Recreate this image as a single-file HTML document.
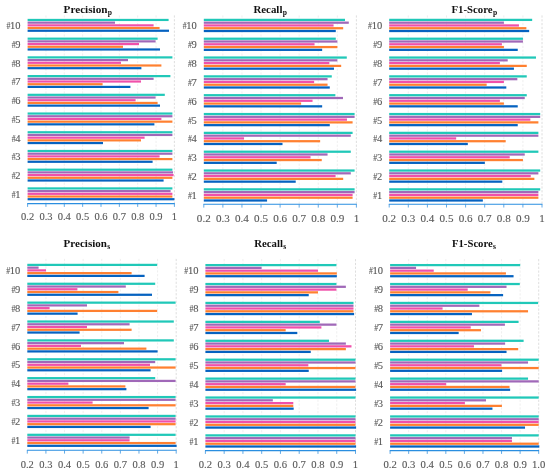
<!DOCTYPE html>
<html><head><meta charset="utf-8"><title>Charts</title>
<style>
html,body{margin:0;padding:0;background:#fff;}
body{width:550px;height:474px;overflow:hidden;}
svg{display:block;}
.lab{font-family:"Liberation Serif","DejaVu Serif",serif;fill:#585858;stroke:#585858;stroke-width:0.12px;}
.ttl{font-family:"Liberation Serif","DejaVu Serif",serif;font-weight:bold;fill:#111;}
</style></head><body>
<svg width="550" height="474" viewBox="0 0 550 474">
<rect width="550" height="474" fill="#fff"/>
<line x1="45.95" y1="15.4" x2="45.95" y2="203.6" stroke="#ebebeb" stroke-width="0.8" stroke-dasharray="2.2 1.6"/>
<line x1="64.30" y1="15.4" x2="64.30" y2="203.6" stroke="#ebebeb" stroke-width="0.8" stroke-dasharray="2.2 1.6"/>
<line x1="82.65" y1="15.4" x2="82.65" y2="203.6" stroke="#ebebeb" stroke-width="0.8" stroke-dasharray="2.2 1.6"/>
<line x1="101.00" y1="15.4" x2="101.00" y2="203.6" stroke="#ebebeb" stroke-width="0.8" stroke-dasharray="2.2 1.6"/>
<line x1="119.35" y1="15.4" x2="119.35" y2="203.6" stroke="#ebebeb" stroke-width="0.8" stroke-dasharray="2.2 1.6"/>
<line x1="137.70" y1="15.4" x2="137.70" y2="203.6" stroke="#ebebeb" stroke-width="0.8" stroke-dasharray="2.2 1.6"/>
<line x1="156.05" y1="15.4" x2="156.05" y2="203.6" stroke="#ebebeb" stroke-width="0.8" stroke-dasharray="2.2 1.6"/>
<line x1="174.40" y1="15.4" x2="174.40" y2="203.6" stroke="#d6d6d6" stroke-width="0.8" stroke-dasharray="2.2 1.6"/>
<rect x="27.60" y="18.86" width="141.00" height="2.19" fill="#20c8b8"/>
<rect x="27.60" y="21.55" width="87.40" height="2.19" fill="#a068b8"/>
<rect x="27.60" y="24.26" width="126.00" height="2.19" fill="#f050aa"/>
<rect x="27.60" y="26.96" width="132.00" height="2.19" fill="#ff8030"/>
<rect x="27.60" y="29.66" width="141.40" height="2.19" fill="#0562c0"/>
<text x="20.6" y="29.2" text-anchor="end" class="lab" font-size="10.5">10</text>
<text transform="translate(10.40,29.2) scale(0.74,1)" text-anchor="end" class="lab" font-size="10.5">#</text>
<rect x="27.60" y="37.58" width="130.00" height="2.19" fill="#20c8b8"/>
<rect x="27.60" y="40.28" width="128.00" height="2.19" fill="#a068b8"/>
<rect x="27.60" y="42.98" width="111.40" height="2.19" fill="#f050aa"/>
<rect x="27.60" y="45.68" width="95.40" height="2.19" fill="#ff8030"/>
<rect x="27.60" y="48.38" width="132.40" height="2.19" fill="#0562c0"/>
<text x="20.6" y="48.0" text-anchor="end" class="lab" font-size="10.5">9</text>
<text transform="translate(15.65,48.0) scale(0.74,1)" text-anchor="end" class="lab" font-size="10.5">#</text>
<rect x="27.60" y="56.30" width="144.80" height="2.19" fill="#20c8b8"/>
<rect x="27.60" y="59.00" width="100.40" height="2.19" fill="#a068b8"/>
<rect x="27.60" y="61.70" width="93.40" height="2.19" fill="#f050aa"/>
<rect x="27.60" y="64.40" width="133.80" height="2.19" fill="#ff8030"/>
<rect x="27.60" y="67.09" width="113.80" height="2.19" fill="#0562c0"/>
<text x="20.6" y="66.7" text-anchor="end" class="lab" font-size="10.5">8</text>
<text transform="translate(15.65,66.7) scale(0.74,1)" text-anchor="end" class="lab" font-size="10.5">#</text>
<rect x="27.60" y="75.02" width="142.80" height="2.19" fill="#20c8b8"/>
<rect x="27.60" y="77.72" width="126.00" height="2.19" fill="#a068b8"/>
<rect x="27.60" y="80.42" width="113.40" height="2.19" fill="#f050aa"/>
<rect x="27.60" y="83.12" width="75.00" height="2.19" fill="#ff8030"/>
<rect x="27.60" y="85.81" width="102.80" height="2.19" fill="#0562c0"/>
<text x="20.6" y="85.4" text-anchor="end" class="lab" font-size="10.5">7</text>
<text transform="translate(15.65,85.4) scale(0.74,1)" text-anchor="end" class="lab" font-size="10.5">#</text>
<rect x="27.60" y="93.73" width="137.20" height="2.19" fill="#20c8b8"/>
<rect x="27.60" y="96.44" width="128.00" height="2.19" fill="#a068b8"/>
<rect x="27.60" y="99.14" width="108.00" height="2.19" fill="#f050aa"/>
<rect x="27.60" y="101.84" width="130.00" height="2.19" fill="#ff8030"/>
<rect x="27.60" y="104.53" width="132.40" height="2.19" fill="#0562c0"/>
<text x="20.6" y="104.1" text-anchor="end" class="lab" font-size="10.5">6</text>
<text transform="translate(15.65,104.1) scale(0.74,1)" text-anchor="end" class="lab" font-size="10.5">#</text>
<rect x="27.60" y="112.45" width="144.80" height="2.19" fill="#20c8b8"/>
<rect x="27.60" y="115.16" width="144.80" height="2.19" fill="#a068b8"/>
<rect x="27.60" y="117.86" width="133.80" height="2.19" fill="#f050aa"/>
<rect x="27.60" y="120.56" width="144.80" height="2.19" fill="#ff8030"/>
<rect x="27.60" y="123.25" width="126.80" height="2.19" fill="#0562c0"/>
<text x="20.6" y="122.9" text-anchor="end" class="lab" font-size="10.5">5</text>
<text transform="translate(15.65,122.9) scale(0.74,1)" text-anchor="end" class="lab" font-size="10.5">#</text>
<rect x="27.60" y="131.17" width="144.80" height="2.19" fill="#20c8b8"/>
<rect x="27.60" y="133.87" width="144.80" height="2.19" fill="#a068b8"/>
<rect x="27.60" y="136.57" width="117.00" height="2.19" fill="#f050aa"/>
<rect x="27.60" y="139.27" width="113.40" height="2.19" fill="#ff8030"/>
<rect x="27.60" y="141.97" width="75.40" height="2.19" fill="#0562c0"/>
<text x="20.6" y="141.6" text-anchor="end" class="lab" font-size="10.5">4</text>
<text transform="translate(15.65,141.6) scale(0.74,1)" text-anchor="end" class="lab" font-size="10.5">#</text>
<rect x="27.60" y="149.89" width="144.80" height="2.19" fill="#20c8b8"/>
<rect x="27.60" y="152.59" width="144.80" height="2.19" fill="#a068b8"/>
<rect x="27.60" y="155.29" width="132.00" height="2.19" fill="#f050aa"/>
<rect x="27.60" y="157.99" width="144.80" height="2.19" fill="#ff8030"/>
<rect x="27.60" y="160.69" width="125.00" height="2.19" fill="#0562c0"/>
<text x="20.6" y="160.3" text-anchor="end" class="lab" font-size="10.5">3</text>
<text transform="translate(15.65,160.3) scale(0.74,1)" text-anchor="end" class="lab" font-size="10.5">#</text>
<rect x="27.60" y="168.61" width="144.80" height="2.19" fill="#20c8b8"/>
<rect x="27.60" y="171.31" width="145.40" height="2.19" fill="#a068b8"/>
<rect x="27.60" y="174.01" width="146.00" height="2.19" fill="#f050aa"/>
<rect x="27.60" y="176.71" width="144.80" height="2.19" fill="#ff8030"/>
<rect x="27.60" y="179.41" width="136.00" height="2.19" fill="#0562c0"/>
<text x="20.6" y="179.0" text-anchor="end" class="lab" font-size="10.5">2</text>
<text transform="translate(15.65,179.0) scale(0.74,1)" text-anchor="end" class="lab" font-size="10.5">#</text>
<rect x="27.60" y="187.33" width="144.80" height="2.19" fill="#20c8b8"/>
<rect x="27.60" y="190.03" width="143.00" height="2.19" fill="#a068b8"/>
<rect x="27.60" y="192.73" width="144.80" height="2.19" fill="#f050aa"/>
<rect x="27.60" y="195.43" width="144.80" height="2.19" fill="#ff8030"/>
<rect x="27.60" y="198.13" width="146.80" height="2.19" fill="#0562c0"/>
<text x="20.6" y="197.7" text-anchor="end" class="lab" font-size="10.5">1</text>
<text transform="translate(15.65,197.7) scale(0.74,1)" text-anchor="end" class="lab" font-size="10.5">#</text>
<line x1="27.20" y1="203.6" x2="174.80" y2="203.6" stroke="#2a8ee0" stroke-width="1.1"/>
<line x1="27.60" y1="203.6" x2="27.60" y2="206.9" stroke="#3a94e0" stroke-width="0.8"/>
<text x="27.60" y="219.6" text-anchor="middle" class="lab" font-size="10.5">0.2</text>
<line x1="45.95" y1="203.6" x2="45.95" y2="206.9" stroke="#3a94e0" stroke-width="0.8"/>
<text x="45.95" y="219.6" text-anchor="middle" class="lab" font-size="10.5">0.3</text>
<line x1="64.30" y1="203.6" x2="64.30" y2="206.9" stroke="#3a94e0" stroke-width="0.8"/>
<text x="64.30" y="219.6" text-anchor="middle" class="lab" font-size="10.5">0.4</text>
<line x1="82.65" y1="203.6" x2="82.65" y2="206.9" stroke="#3a94e0" stroke-width="0.8"/>
<text x="82.65" y="219.6" text-anchor="middle" class="lab" font-size="10.5">0.5</text>
<line x1="101.00" y1="203.6" x2="101.00" y2="206.9" stroke="#3a94e0" stroke-width="0.8"/>
<text x="101.00" y="219.6" text-anchor="middle" class="lab" font-size="10.5">0.6</text>
<line x1="119.35" y1="203.6" x2="119.35" y2="206.9" stroke="#3a94e0" stroke-width="0.8"/>
<text x="119.35" y="219.6" text-anchor="middle" class="lab" font-size="10.5">0.7</text>
<line x1="137.70" y1="203.6" x2="137.70" y2="206.9" stroke="#3a94e0" stroke-width="0.8"/>
<text x="137.70" y="219.6" text-anchor="middle" class="lab" font-size="10.5">0.8</text>
<line x1="156.05" y1="203.6" x2="156.05" y2="206.9" stroke="#3a94e0" stroke-width="0.8"/>
<text x="156.05" y="219.6" text-anchor="middle" class="lab" font-size="10.5">0.9</text>
<line x1="174.40" y1="203.6" x2="174.40" y2="206.9" stroke="#3a94e0" stroke-width="0.8"/>
<text x="174.40" y="219.6" text-anchor="middle" class="lab" font-size="10.5">1</text>
<text x="63.6" y="13.0" class="ttl" font-size="11.2">Precision<tspan dx="0.3" dy="2.1" font-size="7.6">p</tspan></text>
<line x1="222.88" y1="15.4" x2="222.88" y2="204.3" stroke="#ebebeb" stroke-width="0.8" stroke-dasharray="2.2 1.6"/>
<line x1="241.95" y1="15.4" x2="241.95" y2="204.3" stroke="#ebebeb" stroke-width="0.8" stroke-dasharray="2.2 1.6"/>
<line x1="261.02" y1="15.4" x2="261.02" y2="204.3" stroke="#ebebeb" stroke-width="0.8" stroke-dasharray="2.2 1.6"/>
<line x1="280.10" y1="15.4" x2="280.10" y2="204.3" stroke="#ebebeb" stroke-width="0.8" stroke-dasharray="2.2 1.6"/>
<line x1="299.17" y1="15.4" x2="299.17" y2="204.3" stroke="#ebebeb" stroke-width="0.8" stroke-dasharray="2.2 1.6"/>
<line x1="318.25" y1="15.4" x2="318.25" y2="204.3" stroke="#ebebeb" stroke-width="0.8" stroke-dasharray="2.2 1.6"/>
<line x1="337.32" y1="15.4" x2="337.32" y2="204.3" stroke="#ebebeb" stroke-width="0.8" stroke-dasharray="2.2 1.6"/>
<line x1="356.40" y1="15.4" x2="356.40" y2="204.3" stroke="#d6d6d6" stroke-width="0.8" stroke-dasharray="2.2 1.6"/>
<rect x="203.80" y="18.77" width="141.19" height="2.25" fill="#20c8b8"/>
<rect x="203.80" y="21.55" width="144.99" height="2.25" fill="#a068b8"/>
<rect x="203.80" y="24.33" width="129.77" height="2.25" fill="#f050aa"/>
<rect x="203.80" y="27.11" width="139.38" height="2.25" fill="#ff8030"/>
<rect x="203.80" y="29.89" width="131.97" height="2.25" fill="#0562c0"/>
<text x="196.8" y="29.4" text-anchor="end" class="lab" font-size="10.5">10</text>
<text transform="translate(186.60,29.4) scale(0.74,1)" text-anchor="end" class="lab" font-size="10.5">#</text>
<rect x="203.80" y="37.60" width="131.97" height="2.25" fill="#20c8b8"/>
<rect x="203.80" y="40.38" width="133.58" height="2.25" fill="#a068b8"/>
<rect x="203.80" y="43.16" width="110.75" height="2.25" fill="#f050aa"/>
<rect x="203.80" y="45.94" width="133.58" height="2.25" fill="#ff8030"/>
<rect x="203.80" y="48.72" width="118.36" height="2.25" fill="#0562c0"/>
<text x="196.8" y="48.2" text-anchor="end" class="lab" font-size="10.5">9</text>
<text transform="translate(191.85,48.2) scale(0.74,1)" text-anchor="end" class="lab" font-size="10.5">#</text>
<rect x="203.80" y="56.43" width="142.99" height="2.25" fill="#20c8b8"/>
<rect x="203.80" y="59.21" width="133.58" height="2.25" fill="#a068b8"/>
<rect x="203.80" y="61.99" width="125.56" height="2.25" fill="#f050aa"/>
<rect x="203.80" y="64.77" width="137.38" height="2.25" fill="#ff8030"/>
<rect x="203.80" y="67.55" width="130.17" height="2.25" fill="#0562c0"/>
<text x="196.8" y="67.0" text-anchor="end" class="lab" font-size="10.5">8</text>
<text transform="translate(191.85,67.0) scale(0.74,1)" text-anchor="end" class="lab" font-size="10.5">#</text>
<rect x="203.80" y="75.26" width="127.97" height="2.25" fill="#20c8b8"/>
<rect x="203.80" y="78.04" width="123.76" height="2.25" fill="#a068b8"/>
<rect x="203.80" y="80.82" width="110.34" height="2.25" fill="#f050aa"/>
<rect x="203.80" y="83.60" width="123.76" height="2.25" fill="#ff8030"/>
<rect x="203.80" y="86.38" width="125.97" height="2.25" fill="#0562c0"/>
<text x="196.8" y="85.8" text-anchor="end" class="lab" font-size="10.5">7</text>
<text transform="translate(191.85,85.8) scale(0.74,1)" text-anchor="end" class="lab" font-size="10.5">#</text>
<rect x="203.80" y="94.09" width="131.57" height="2.25" fill="#20c8b8"/>
<rect x="203.80" y="96.88" width="139.18" height="2.25" fill="#a068b8"/>
<rect x="203.80" y="99.66" width="108.74" height="2.25" fill="#f050aa"/>
<rect x="203.80" y="102.44" width="97.33" height="2.25" fill="#ff8030"/>
<rect x="203.80" y="105.22" width="118.36" height="2.25" fill="#0562c0"/>
<text x="196.8" y="104.7" text-anchor="end" class="lab" font-size="10.5">6</text>
<text transform="translate(191.85,104.7) scale(0.74,1)" text-anchor="end" class="lab" font-size="10.5">#</text>
<rect x="203.80" y="112.92" width="150.80" height="2.25" fill="#20c8b8"/>
<rect x="203.80" y="115.70" width="150.80" height="2.25" fill="#a068b8"/>
<rect x="203.80" y="118.48" width="143.19" height="2.25" fill="#f050aa"/>
<rect x="203.80" y="121.26" width="148.80" height="2.25" fill="#ff8030"/>
<rect x="203.80" y="124.04" width="125.97" height="2.25" fill="#0562c0"/>
<text x="196.8" y="123.5" text-anchor="end" class="lab" font-size="10.5">5</text>
<text transform="translate(191.85,123.5) scale(0.74,1)" text-anchor="end" class="lab" font-size="10.5">#</text>
<rect x="203.80" y="131.75" width="148.80" height="2.25" fill="#20c8b8"/>
<rect x="203.80" y="134.53" width="146.99" height="2.25" fill="#a068b8"/>
<rect x="203.80" y="137.31" width="40.25" height="2.25" fill="#f050aa"/>
<rect x="203.80" y="140.09" width="116.35" height="2.25" fill="#ff8030"/>
<rect x="203.80" y="142.88" width="78.70" height="2.25" fill="#0562c0"/>
<text x="196.8" y="142.3" text-anchor="end" class="lab" font-size="10.5">4</text>
<text transform="translate(191.85,142.3) scale(0.74,1)" text-anchor="end" class="lab" font-size="10.5">#</text>
<rect x="203.80" y="150.59" width="146.99" height="2.25" fill="#20c8b8"/>
<rect x="203.80" y="153.37" width="123.76" height="2.25" fill="#a068b8"/>
<rect x="203.80" y="156.15" width="106.74" height="2.25" fill="#f050aa"/>
<rect x="203.80" y="158.93" width="117.95" height="2.25" fill="#ff8030"/>
<rect x="203.80" y="161.71" width="72.90" height="2.25" fill="#0562c0"/>
<text x="196.8" y="161.2" text-anchor="end" class="lab" font-size="10.5">3</text>
<text transform="translate(191.85,161.2) scale(0.74,1)" text-anchor="end" class="lab" font-size="10.5">#</text>
<rect x="203.80" y="169.41" width="150.80" height="2.25" fill="#20c8b8"/>
<rect x="203.80" y="172.19" width="146.99" height="2.25" fill="#a068b8"/>
<rect x="203.80" y="174.97" width="131.77" height="2.25" fill="#f050aa"/>
<rect x="203.80" y="177.75" width="139.38" height="2.25" fill="#ff8030"/>
<rect x="203.80" y="180.53" width="91.92" height="2.25" fill="#0562c0"/>
<text x="196.8" y="180.0" text-anchor="end" class="lab" font-size="10.5">2</text>
<text transform="translate(191.85,180.0) scale(0.74,1)" text-anchor="end" class="lab" font-size="10.5">#</text>
<rect x="203.80" y="188.24" width="150.80" height="2.25" fill="#20c8b8"/>
<rect x="203.80" y="191.02" width="150.80" height="2.25" fill="#a068b8"/>
<rect x="203.80" y="193.80" width="148.80" height="2.25" fill="#f050aa"/>
<rect x="203.80" y="196.58" width="148.80" height="2.25" fill="#ff8030"/>
<rect x="203.80" y="199.36" width="63.28" height="2.25" fill="#0562c0"/>
<text x="196.8" y="198.8" text-anchor="end" class="lab" font-size="10.5">1</text>
<text transform="translate(191.85,198.8) scale(0.74,1)" text-anchor="end" class="lab" font-size="10.5">#</text>
<line x1="203.40" y1="204.3" x2="356.80" y2="204.3" stroke="#2a8ee0" stroke-width="1.1"/>
<line x1="203.80" y1="204.3" x2="203.80" y2="207.6" stroke="#3a94e0" stroke-width="0.8"/>
<text x="203.80" y="221.7" text-anchor="middle" class="lab" font-size="11.1">0.2</text>
<line x1="222.88" y1="204.3" x2="222.88" y2="207.6" stroke="#3a94e0" stroke-width="0.8"/>
<text x="222.88" y="221.7" text-anchor="middle" class="lab" font-size="11.1">0.3</text>
<line x1="241.95" y1="204.3" x2="241.95" y2="207.6" stroke="#3a94e0" stroke-width="0.8"/>
<text x="241.95" y="221.7" text-anchor="middle" class="lab" font-size="11.1">0.4</text>
<line x1="261.02" y1="204.3" x2="261.02" y2="207.6" stroke="#3a94e0" stroke-width="0.8"/>
<text x="261.02" y="221.7" text-anchor="middle" class="lab" font-size="11.1">0.5</text>
<line x1="280.10" y1="204.3" x2="280.10" y2="207.6" stroke="#3a94e0" stroke-width="0.8"/>
<text x="280.10" y="221.7" text-anchor="middle" class="lab" font-size="11.1">0.6</text>
<line x1="299.17" y1="204.3" x2="299.17" y2="207.6" stroke="#3a94e0" stroke-width="0.8"/>
<text x="299.17" y="221.7" text-anchor="middle" class="lab" font-size="11.1">0.7</text>
<line x1="318.25" y1="204.3" x2="318.25" y2="207.6" stroke="#3a94e0" stroke-width="0.8"/>
<text x="318.25" y="221.7" text-anchor="middle" class="lab" font-size="11.1">0.8</text>
<line x1="337.32" y1="204.3" x2="337.32" y2="207.6" stroke="#3a94e0" stroke-width="0.8"/>
<text x="337.32" y="221.7" text-anchor="middle" class="lab" font-size="11.1">0.9</text>
<line x1="356.40" y1="204.3" x2="356.40" y2="207.6" stroke="#3a94e0" stroke-width="0.8"/>
<text x="356.40" y="221.7" text-anchor="middle" class="lab" font-size="11.1">1</text>
<text x="253.4" y="12.9" class="ttl" font-size="10.9">Recall<tspan dx="0.3" dy="2.1" font-size="7.6">p</tspan></text>
<line x1="408.30" y1="15.4" x2="408.30" y2="204.2" stroke="#ebebeb" stroke-width="0.8" stroke-dasharray="2.2 1.6"/>
<line x1="427.40" y1="15.4" x2="427.40" y2="204.2" stroke="#ebebeb" stroke-width="0.8" stroke-dasharray="2.2 1.6"/>
<line x1="446.50" y1="15.4" x2="446.50" y2="204.2" stroke="#ebebeb" stroke-width="0.8" stroke-dasharray="2.2 1.6"/>
<line x1="465.60" y1="15.4" x2="465.60" y2="204.2" stroke="#ebebeb" stroke-width="0.8" stroke-dasharray="2.2 1.6"/>
<line x1="484.70" y1="15.4" x2="484.70" y2="204.2" stroke="#ebebeb" stroke-width="0.8" stroke-dasharray="2.2 1.6"/>
<line x1="503.80" y1="15.4" x2="503.80" y2="204.2" stroke="#ebebeb" stroke-width="0.8" stroke-dasharray="2.2 1.6"/>
<line x1="522.90" y1="15.4" x2="522.90" y2="204.2" stroke="#ebebeb" stroke-width="0.8" stroke-dasharray="2.2 1.6"/>
<line x1="542.00" y1="15.4" x2="542.00" y2="204.2" stroke="#d6d6d6" stroke-width="0.8" stroke-dasharray="2.2 1.6"/>
<rect x="389.20" y="18.77" width="142.97" height="2.25" fill="#20c8b8"/>
<rect x="389.20" y="21.55" width="114.70" height="2.25" fill="#a068b8"/>
<rect x="389.20" y="24.33" width="129.74" height="2.25" fill="#f050aa"/>
<rect x="389.20" y="27.11" width="137.16" height="2.25" fill="#ff8030"/>
<rect x="389.20" y="29.89" width="139.97" height="2.25" fill="#0562c0"/>
<text x="382.2" y="29.4" text-anchor="end" class="lab" font-size="10.5">10</text>
<text transform="translate(372.00,29.4) scale(0.74,1)" text-anchor="end" class="lab" font-size="10.5">#</text>
<rect x="389.20" y="37.60" width="133.75" height="2.25" fill="#20c8b8"/>
<rect x="389.20" y="40.38" width="133.75" height="2.25" fill="#a068b8"/>
<rect x="389.20" y="43.16" width="112.70" height="2.25" fill="#f050aa"/>
<rect x="389.20" y="45.94" width="114.70" height="2.25" fill="#ff8030"/>
<rect x="389.20" y="48.72" width="128.54" height="2.25" fill="#0562c0"/>
<text x="382.2" y="48.2" text-anchor="end" class="lab" font-size="10.5">9</text>
<text transform="translate(377.25,48.2) scale(0.74,1)" text-anchor="end" class="lab" font-size="10.5">#</text>
<rect x="389.20" y="56.43" width="146.78" height="2.25" fill="#20c8b8"/>
<rect x="389.20" y="59.21" width="118.51" height="2.25" fill="#a068b8"/>
<rect x="389.20" y="61.99" width="110.69" height="2.25" fill="#f050aa"/>
<rect x="389.20" y="64.77" width="137.56" height="2.25" fill="#ff8030"/>
<rect x="389.20" y="67.55" width="124.73" height="2.25" fill="#0562c0"/>
<text x="382.2" y="67.0" text-anchor="end" class="lab" font-size="10.5">8</text>
<text transform="translate(377.25,67.0) scale(0.74,1)" text-anchor="end" class="lab" font-size="10.5">#</text>
<rect x="389.20" y="75.26" width="137.56" height="2.25" fill="#20c8b8"/>
<rect x="389.20" y="78.04" width="128.14" height="2.25" fill="#a068b8"/>
<rect x="389.20" y="80.82" width="114.70" height="2.25" fill="#f050aa"/>
<rect x="389.20" y="83.60" width="97.46" height="2.25" fill="#ff8030"/>
<rect x="389.20" y="86.38" width="117.11" height="2.25" fill="#0562c0"/>
<text x="382.2" y="85.8" text-anchor="end" class="lab" font-size="10.5">7</text>
<text transform="translate(377.25,85.8) scale(0.74,1)" text-anchor="end" class="lab" font-size="10.5">#</text>
<rect x="389.20" y="94.09" width="137.56" height="2.25" fill="#20c8b8"/>
<rect x="389.20" y="96.88" width="135.55" height="2.25" fill="#a068b8"/>
<rect x="389.20" y="99.66" width="110.69" height="2.25" fill="#f050aa"/>
<rect x="389.20" y="102.44" width="114.70" height="2.25" fill="#ff8030"/>
<rect x="389.20" y="105.22" width="128.54" height="2.25" fill="#0562c0"/>
<text x="382.2" y="104.7" text-anchor="end" class="lab" font-size="10.5">6</text>
<text transform="translate(377.25,104.7) scale(0.74,1)" text-anchor="end" class="lab" font-size="10.5">#</text>
<rect x="389.20" y="112.92" width="151.00" height="2.25" fill="#20c8b8"/>
<rect x="389.20" y="115.70" width="151.00" height="2.25" fill="#a068b8"/>
<rect x="389.20" y="118.48" width="141.17" height="2.25" fill="#f050aa"/>
<rect x="389.20" y="121.26" width="149.19" height="2.25" fill="#ff8030"/>
<rect x="389.20" y="124.04" width="128.54" height="2.25" fill="#0562c0"/>
<text x="382.2" y="123.5" text-anchor="end" class="lab" font-size="10.5">5</text>
<text transform="translate(377.25,123.5) scale(0.74,1)" text-anchor="end" class="lab" font-size="10.5">#</text>
<rect x="389.20" y="131.75" width="149.19" height="2.25" fill="#20c8b8"/>
<rect x="389.20" y="134.53" width="149.19" height="2.25" fill="#a068b8"/>
<rect x="389.20" y="137.31" width="66.98" height="2.25" fill="#f050aa"/>
<rect x="389.20" y="140.09" width="116.50" height="2.25" fill="#ff8030"/>
<rect x="389.20" y="142.88" width="78.61" height="2.25" fill="#0562c0"/>
<text x="382.2" y="142.3" text-anchor="end" class="lab" font-size="10.5">4</text>
<text transform="translate(377.25,142.3) scale(0.74,1)" text-anchor="end" class="lab" font-size="10.5">#</text>
<rect x="389.20" y="150.59" width="149.19" height="2.25" fill="#20c8b8"/>
<rect x="389.20" y="153.37" width="135.55" height="2.25" fill="#a068b8"/>
<rect x="389.20" y="156.15" width="120.52" height="2.25" fill="#f050aa"/>
<rect x="389.20" y="158.93" width="133.75" height="2.25" fill="#ff8030"/>
<rect x="389.20" y="161.71" width="95.65" height="2.25" fill="#0562c0"/>
<text x="382.2" y="161.2" text-anchor="end" class="lab" font-size="10.5">3</text>
<text transform="translate(377.25,161.2) scale(0.74,1)" text-anchor="end" class="lab" font-size="10.5">#</text>
<rect x="389.20" y="169.41" width="151.00" height="2.25" fill="#20c8b8"/>
<rect x="389.20" y="172.19" width="149.19" height="2.25" fill="#a068b8"/>
<rect x="389.20" y="174.97" width="141.57" height="2.25" fill="#f050aa"/>
<rect x="389.20" y="177.75" width="145.18" height="2.25" fill="#ff8030"/>
<rect x="389.20" y="180.53" width="113.10" height="2.25" fill="#0562c0"/>
<text x="382.2" y="180.0" text-anchor="end" class="lab" font-size="10.5">2</text>
<text transform="translate(377.25,180.0) scale(0.74,1)" text-anchor="end" class="lab" font-size="10.5">#</text>
<rect x="389.20" y="188.24" width="151.00" height="2.25" fill="#20c8b8"/>
<rect x="389.20" y="191.02" width="149.19" height="2.25" fill="#a068b8"/>
<rect x="389.20" y="193.80" width="149.19" height="2.25" fill="#f050aa"/>
<rect x="389.20" y="196.58" width="149.19" height="2.25" fill="#ff8030"/>
<rect x="389.20" y="199.36" width="93.65" height="2.25" fill="#0562c0"/>
<text x="382.2" y="198.8" text-anchor="end" class="lab" font-size="10.5">1</text>
<text transform="translate(377.25,198.8) scale(0.74,1)" text-anchor="end" class="lab" font-size="10.5">#</text>
<line x1="388.80" y1="204.2" x2="542.40" y2="204.2" stroke="#2a8ee0" stroke-width="1.1"/>
<line x1="389.20" y1="204.2" x2="389.20" y2="207.5" stroke="#3a94e0" stroke-width="0.8"/>
<text x="389.20" y="221.7" text-anchor="middle" class="lab" font-size="11.1">0.2</text>
<line x1="408.30" y1="204.2" x2="408.30" y2="207.5" stroke="#3a94e0" stroke-width="0.8"/>
<text x="408.30" y="221.7" text-anchor="middle" class="lab" font-size="11.1">0.3</text>
<line x1="427.40" y1="204.2" x2="427.40" y2="207.5" stroke="#3a94e0" stroke-width="0.8"/>
<text x="427.40" y="221.7" text-anchor="middle" class="lab" font-size="11.1">0.4</text>
<line x1="446.50" y1="204.2" x2="446.50" y2="207.5" stroke="#3a94e0" stroke-width="0.8"/>
<text x="446.50" y="221.7" text-anchor="middle" class="lab" font-size="11.1">0.5</text>
<line x1="465.60" y1="204.2" x2="465.60" y2="207.5" stroke="#3a94e0" stroke-width="0.8"/>
<text x="465.60" y="221.7" text-anchor="middle" class="lab" font-size="11.1">0.6</text>
<line x1="484.70" y1="204.2" x2="484.70" y2="207.5" stroke="#3a94e0" stroke-width="0.8"/>
<text x="484.70" y="221.7" text-anchor="middle" class="lab" font-size="11.1">0.7</text>
<line x1="503.80" y1="204.2" x2="503.80" y2="207.5" stroke="#3a94e0" stroke-width="0.8"/>
<text x="503.80" y="221.7" text-anchor="middle" class="lab" font-size="11.1">0.8</text>
<line x1="522.90" y1="204.2" x2="522.90" y2="207.5" stroke="#3a94e0" stroke-width="0.8"/>
<text x="522.90" y="221.7" text-anchor="middle" class="lab" font-size="11.1">0.9</text>
<line x1="542.00" y1="204.2" x2="542.00" y2="207.5" stroke="#3a94e0" stroke-width="0.8"/>
<text x="542.00" y="221.7" text-anchor="middle" class="lab" font-size="11.1">1</text>
<text x="451.4" y="12.7" class="ttl" font-size="10.8">F1-Score<tspan dx="0.3" dy="2.1" font-size="7.6">p</tspan></text>
<line x1="45.91" y1="258.9" x2="45.91" y2="450.3" stroke="#ebebeb" stroke-width="0.8" stroke-dasharray="2.2 1.6"/>
<line x1="64.52" y1="258.9" x2="64.52" y2="450.3" stroke="#ebebeb" stroke-width="0.8" stroke-dasharray="2.2 1.6"/>
<line x1="83.14" y1="258.9" x2="83.14" y2="450.3" stroke="#ebebeb" stroke-width="0.8" stroke-dasharray="2.2 1.6"/>
<line x1="101.75" y1="258.9" x2="101.75" y2="450.3" stroke="#ebebeb" stroke-width="0.8" stroke-dasharray="2.2 1.6"/>
<line x1="120.36" y1="258.9" x2="120.36" y2="450.3" stroke="#ebebeb" stroke-width="0.8" stroke-dasharray="2.2 1.6"/>
<line x1="138.97" y1="258.9" x2="138.97" y2="450.3" stroke="#ebebeb" stroke-width="0.8" stroke-dasharray="2.2 1.6"/>
<line x1="157.59" y1="258.9" x2="157.59" y2="450.3" stroke="#ebebeb" stroke-width="0.8" stroke-dasharray="2.2 1.6"/>
<line x1="176.20" y1="258.9" x2="176.20" y2="450.3" stroke="#d6d6d6" stroke-width="0.8" stroke-dasharray="2.2 1.6"/>
<rect x="27.30" y="263.78" width="129.90" height="2.23" fill="#20c8b8"/>
<rect x="27.30" y="266.53" width="11.30" height="2.23" fill="#a068b8"/>
<rect x="27.30" y="269.28" width="18.70" height="2.23" fill="#f050aa"/>
<rect x="27.30" y="272.03" width="104.30" height="2.23" fill="#ff8030"/>
<rect x="27.30" y="274.78" width="117.30" height="2.23" fill="#0562c0"/>
<text x="20.3" y="274.0" text-anchor="end" class="lab" font-size="10.5">10</text>
<text transform="translate(10.10,274.0) scale(0.74,1)" text-anchor="end" class="lab" font-size="10.5">#</text>
<rect x="27.30" y="282.66" width="127.90" height="2.23" fill="#20c8b8"/>
<rect x="27.30" y="285.41" width="98.50" height="2.23" fill="#a068b8"/>
<rect x="27.30" y="288.16" width="50.10" height="2.23" fill="#f050aa"/>
<rect x="27.30" y="290.91" width="91.10" height="2.23" fill="#ff8030"/>
<rect x="27.30" y="293.66" width="124.70" height="2.23" fill="#0562c0"/>
<text x="20.3" y="292.9" text-anchor="end" class="lab" font-size="10.5">9</text>
<text transform="translate(15.35,292.9) scale(0.74,1)" text-anchor="end" class="lab" font-size="10.5">#</text>
<rect x="27.30" y="301.54" width="148.30" height="2.23" fill="#20c8b8"/>
<rect x="27.30" y="304.29" width="59.70" height="2.23" fill="#a068b8"/>
<rect x="27.30" y="307.04" width="22.30" height="2.23" fill="#f050aa"/>
<rect x="27.30" y="309.79" width="129.90" height="2.23" fill="#ff8030"/>
<rect x="27.30" y="312.54" width="50.30" height="2.23" fill="#0562c0"/>
<text x="20.3" y="311.8" text-anchor="end" class="lab" font-size="10.5">8</text>
<text transform="translate(15.35,311.8) scale(0.74,1)" text-anchor="end" class="lab" font-size="10.5">#</text>
<rect x="27.30" y="320.42" width="146.50" height="2.23" fill="#20c8b8"/>
<rect x="27.30" y="323.17" width="102.30" height="2.23" fill="#a068b8"/>
<rect x="27.30" y="325.92" width="59.70" height="2.23" fill="#f050aa"/>
<rect x="27.30" y="328.67" width="104.30" height="2.23" fill="#ff8030"/>
<rect x="27.30" y="331.42" width="52.30" height="2.23" fill="#0562c0"/>
<text x="20.3" y="330.6" text-anchor="end" class="lab" font-size="10.5">7</text>
<text transform="translate(15.35,330.6) scale(0.74,1)" text-anchor="end" class="lab" font-size="10.5">#</text>
<rect x="27.30" y="339.30" width="146.50" height="2.23" fill="#20c8b8"/>
<rect x="27.30" y="342.05" width="96.70" height="2.23" fill="#a068b8"/>
<rect x="27.30" y="344.80" width="53.70" height="2.23" fill="#f050aa"/>
<rect x="27.30" y="347.55" width="119.10" height="2.23" fill="#ff8030"/>
<rect x="27.30" y="350.30" width="130.30" height="2.23" fill="#0562c0"/>
<text x="20.3" y="349.5" text-anchor="end" class="lab" font-size="10.5">6</text>
<text transform="translate(15.35,349.5) scale(0.74,1)" text-anchor="end" class="lab" font-size="10.5">#</text>
<rect x="27.30" y="358.18" width="148.30" height="2.23" fill="#20c8b8"/>
<rect x="27.30" y="360.93" width="127.90" height="2.23" fill="#a068b8"/>
<rect x="27.30" y="363.68" width="122.70" height="2.23" fill="#f050aa"/>
<rect x="27.30" y="366.43" width="148.30" height="2.23" fill="#ff8030"/>
<rect x="27.30" y="369.18" width="123.30" height="2.23" fill="#0562c0"/>
<text x="20.3" y="368.4" text-anchor="end" class="lab" font-size="10.5">5</text>
<text transform="translate(15.35,368.4) scale(0.74,1)" text-anchor="end" class="lab" font-size="10.5">#</text>
<rect x="27.30" y="377.06" width="127.90" height="2.23" fill="#20c8b8"/>
<rect x="27.30" y="379.81" width="148.30" height="2.23" fill="#a068b8"/>
<rect x="27.30" y="382.56" width="41.10" height="2.23" fill="#f050aa"/>
<rect x="27.30" y="385.31" width="98.10" height="2.23" fill="#ff8030"/>
<rect x="27.30" y="388.06" width="99.10" height="2.23" fill="#0562c0"/>
<text x="20.3" y="387.3" text-anchor="end" class="lab" font-size="10.5">4</text>
<text transform="translate(15.35,387.3) scale(0.74,1)" text-anchor="end" class="lab" font-size="10.5">#</text>
<rect x="27.30" y="395.94" width="148.30" height="2.23" fill="#20c8b8"/>
<rect x="27.30" y="398.69" width="148.30" height="2.23" fill="#a068b8"/>
<rect x="27.30" y="401.44" width="65.30" height="2.23" fill="#f050aa"/>
<rect x="27.30" y="404.19" width="148.30" height="2.23" fill="#ff8030"/>
<rect x="27.30" y="406.94" width="121.30" height="2.23" fill="#0562c0"/>
<text x="20.3" y="406.2" text-anchor="end" class="lab" font-size="10.5">3</text>
<text transform="translate(15.35,406.2) scale(0.74,1)" text-anchor="end" class="lab" font-size="10.5">#</text>
<rect x="27.30" y="414.82" width="148.30" height="2.23" fill="#20c8b8"/>
<rect x="27.30" y="417.57" width="148.30" height="2.23" fill="#a068b8"/>
<rect x="27.30" y="420.32" width="148.30" height="2.23" fill="#f050aa"/>
<rect x="27.30" y="423.07" width="148.30" height="2.23" fill="#ff8030"/>
<rect x="27.30" y="425.82" width="123.30" height="2.23" fill="#0562c0"/>
<text x="20.3" y="425.0" text-anchor="end" class="lab" font-size="10.5">2</text>
<text transform="translate(15.35,425.0) scale(0.74,1)" text-anchor="end" class="lab" font-size="10.5">#</text>
<rect x="27.30" y="433.70" width="148.30" height="2.23" fill="#20c8b8"/>
<rect x="27.30" y="436.45" width="102.30" height="2.23" fill="#a068b8"/>
<rect x="27.30" y="439.20" width="102.30" height="2.23" fill="#f050aa"/>
<rect x="27.30" y="441.95" width="148.30" height="2.23" fill="#ff8030"/>
<rect x="27.30" y="444.70" width="149.30" height="2.23" fill="#0562c0"/>
<text x="20.3" y="443.9" text-anchor="end" class="lab" font-size="10.5">1</text>
<text transform="translate(15.35,443.9) scale(0.74,1)" text-anchor="end" class="lab" font-size="10.5">#</text>
<line x1="26.90" y1="450.3" x2="176.60" y2="450.3" stroke="#2a8ee0" stroke-width="1.1"/>
<line x1="27.30" y1="450.3" x2="27.30" y2="453.6" stroke="#3a94e0" stroke-width="0.8"/>
<text x="27.30" y="467.7" text-anchor="middle" class="lab" font-size="10.5">0.2</text>
<line x1="45.91" y1="450.3" x2="45.91" y2="453.6" stroke="#3a94e0" stroke-width="0.8"/>
<text x="45.91" y="467.7" text-anchor="middle" class="lab" font-size="10.5">0.3</text>
<line x1="64.52" y1="450.3" x2="64.52" y2="453.6" stroke="#3a94e0" stroke-width="0.8"/>
<text x="64.52" y="467.7" text-anchor="middle" class="lab" font-size="10.5">0.4</text>
<line x1="83.14" y1="450.3" x2="83.14" y2="453.6" stroke="#3a94e0" stroke-width="0.8"/>
<text x="83.14" y="467.7" text-anchor="middle" class="lab" font-size="10.5">0.5</text>
<line x1="101.75" y1="450.3" x2="101.75" y2="453.6" stroke="#3a94e0" stroke-width="0.8"/>
<text x="101.75" y="467.7" text-anchor="middle" class="lab" font-size="10.5">0.6</text>
<line x1="120.36" y1="450.3" x2="120.36" y2="453.6" stroke="#3a94e0" stroke-width="0.8"/>
<text x="120.36" y="467.7" text-anchor="middle" class="lab" font-size="10.5">0.7</text>
<line x1="138.97" y1="450.3" x2="138.97" y2="453.6" stroke="#3a94e0" stroke-width="0.8"/>
<text x="138.97" y="467.7" text-anchor="middle" class="lab" font-size="10.5">0.8</text>
<line x1="157.59" y1="450.3" x2="157.59" y2="453.6" stroke="#3a94e0" stroke-width="0.8"/>
<text x="157.59" y="467.7" text-anchor="middle" class="lab" font-size="10.5">0.9</text>
<line x1="176.20" y1="450.3" x2="176.20" y2="453.6" stroke="#3a94e0" stroke-width="0.8"/>
<text x="176.20" y="467.7" text-anchor="middle" class="lab" font-size="10.5">1</text>
<text x="63.6" y="246.7" class="ttl" font-size="11.05">Precision<tspan dx="0.3" dy="2.1" font-size="7.6">s</tspan></text>
<line x1="224.16" y1="259.1" x2="224.16" y2="450.6" stroke="#ebebeb" stroke-width="0.8" stroke-dasharray="2.2 1.6"/>
<line x1="242.93" y1="259.1" x2="242.93" y2="450.6" stroke="#ebebeb" stroke-width="0.8" stroke-dasharray="2.2 1.6"/>
<line x1="261.69" y1="259.1" x2="261.69" y2="450.6" stroke="#ebebeb" stroke-width="0.8" stroke-dasharray="2.2 1.6"/>
<line x1="280.45" y1="259.1" x2="280.45" y2="450.6" stroke="#ebebeb" stroke-width="0.8" stroke-dasharray="2.2 1.6"/>
<line x1="299.21" y1="259.1" x2="299.21" y2="450.6" stroke="#ebebeb" stroke-width="0.8" stroke-dasharray="2.2 1.6"/>
<line x1="317.98" y1="259.1" x2="317.98" y2="450.6" stroke="#ebebeb" stroke-width="0.8" stroke-dasharray="2.2 1.6"/>
<line x1="336.74" y1="259.1" x2="336.74" y2="450.6" stroke="#ebebeb" stroke-width="0.8" stroke-dasharray="2.2 1.6"/>
<line x1="355.50" y1="259.1" x2="355.50" y2="450.6" stroke="#d6d6d6" stroke-width="0.8" stroke-dasharray="2.2 1.6"/>
<rect x="205.40" y="263.98" width="131.04" height="2.25" fill="#20c8b8"/>
<rect x="205.40" y="266.75" width="56.19" height="2.25" fill="#a068b8"/>
<rect x="205.40" y="269.54" width="112.58" height="2.25" fill="#f050aa"/>
<rect x="205.40" y="272.31" width="131.44" height="2.25" fill="#ff8030"/>
<rect x="205.40" y="275.10" width="131.44" height="2.25" fill="#0562c0"/>
<text x="198.4" y="274.3" text-anchor="end" class="lab" font-size="10.5">10</text>
<text transform="translate(188.20,274.3) scale(0.74,1)" text-anchor="end" class="lab" font-size="10.5">#</text>
<rect x="205.40" y="282.90" width="131.04" height="2.25" fill="#20c8b8"/>
<rect x="205.40" y="285.68" width="140.47" height="2.25" fill="#a068b8"/>
<rect x="205.40" y="288.46" width="131.04" height="2.25" fill="#f050aa"/>
<rect x="205.40" y="291.24" width="112.58" height="2.25" fill="#ff8030"/>
<rect x="205.40" y="294.02" width="103.34" height="2.25" fill="#0562c0"/>
<text x="198.4" y="293.2" text-anchor="end" class="lab" font-size="10.5">9</text>
<text transform="translate(193.45,293.2) scale(0.74,1)" text-anchor="end" class="lab" font-size="10.5">#</text>
<rect x="205.40" y="301.82" width="148.09" height="2.25" fill="#20c8b8"/>
<rect x="205.40" y="304.60" width="148.09" height="2.25" fill="#a068b8"/>
<rect x="205.40" y="307.38" width="148.09" height="2.25" fill="#f050aa"/>
<rect x="205.40" y="310.16" width="148.09" height="2.25" fill="#ff8030"/>
<rect x="205.40" y="312.94" width="148.70" height="2.25" fill="#0562c0"/>
<text x="198.4" y="312.1" text-anchor="end" class="lab" font-size="10.5">8</text>
<text transform="translate(193.45,312.1) scale(0.74,1)" text-anchor="end" class="lab" font-size="10.5">#</text>
<rect x="205.40" y="320.74" width="114.38" height="2.25" fill="#20c8b8"/>
<rect x="205.40" y="323.51" width="131.04" height="2.25" fill="#a068b8"/>
<rect x="205.40" y="326.30" width="115.99" height="2.25" fill="#f050aa"/>
<rect x="205.40" y="329.07" width="80.27" height="2.25" fill="#ff8030"/>
<rect x="205.40" y="331.86" width="91.91" height="2.25" fill="#0562c0"/>
<text x="198.4" y="331.0" text-anchor="end" class="lab" font-size="10.5">7</text>
<text transform="translate(193.45,331.0) scale(0.74,1)" text-anchor="end" class="lab" font-size="10.5">#</text>
<rect x="205.40" y="339.66" width="123.61" height="2.25" fill="#20c8b8"/>
<rect x="205.40" y="342.44" width="140.47" height="2.25" fill="#a068b8"/>
<rect x="205.40" y="345.22" width="146.09" height="2.25" fill="#f050aa"/>
<rect x="205.40" y="348.00" width="140.47" height="2.25" fill="#ff8030"/>
<rect x="205.40" y="350.78" width="105.35" height="2.25" fill="#0562c0"/>
<text x="198.4" y="349.9" text-anchor="end" class="lab" font-size="10.5">6</text>
<text transform="translate(193.45,349.9) scale(0.74,1)" text-anchor="end" class="lab" font-size="10.5">#</text>
<rect x="205.40" y="358.58" width="150.10" height="2.25" fill="#20c8b8"/>
<rect x="205.40" y="361.36" width="150.10" height="2.25" fill="#a068b8"/>
<rect x="205.40" y="364.14" width="102.94" height="2.25" fill="#f050aa"/>
<rect x="205.40" y="366.92" width="150.10" height="2.25" fill="#ff8030"/>
<rect x="205.40" y="369.70" width="103.34" height="2.25" fill="#0562c0"/>
<text x="198.4" y="368.9" text-anchor="end" class="lab" font-size="10.5">5</text>
<text transform="translate(193.45,368.9) scale(0.74,1)" text-anchor="end" class="lab" font-size="10.5">#</text>
<rect x="205.40" y="377.50" width="150.10" height="2.25" fill="#20c8b8"/>
<rect x="205.40" y="380.27" width="150.10" height="2.25" fill="#a068b8"/>
<rect x="205.40" y="383.06" width="80.27" height="2.25" fill="#f050aa"/>
<rect x="205.40" y="385.83" width="150.10" height="2.25" fill="#ff8030"/>
<rect x="205.40" y="388.62" width="150.70" height="2.25" fill="#0562c0"/>
<text x="198.4" y="387.8" text-anchor="end" class="lab" font-size="10.5">4</text>
<text transform="translate(193.45,387.8) scale(0.74,1)" text-anchor="end" class="lab" font-size="10.5">#</text>
<rect x="205.40" y="396.42" width="150.10" height="2.25" fill="#20c8b8"/>
<rect x="205.40" y="399.19" width="67.42" height="2.25" fill="#a068b8"/>
<rect x="205.40" y="401.98" width="87.89" height="2.25" fill="#f050aa"/>
<rect x="205.40" y="404.75" width="87.89" height="2.25" fill="#ff8030"/>
<rect x="205.40" y="407.54" width="88.29" height="2.25" fill="#0562c0"/>
<text x="198.4" y="406.7" text-anchor="end" class="lab" font-size="10.5">3</text>
<text transform="translate(193.45,406.7) scale(0.74,1)" text-anchor="end" class="lab" font-size="10.5">#</text>
<rect x="205.40" y="415.34" width="150.10" height="2.25" fill="#20c8b8"/>
<rect x="205.40" y="418.12" width="150.10" height="2.25" fill="#a068b8"/>
<rect x="205.40" y="420.90" width="150.10" height="2.25" fill="#f050aa"/>
<rect x="205.40" y="423.68" width="150.10" height="2.25" fill="#ff8030"/>
<rect x="205.40" y="426.46" width="150.70" height="2.25" fill="#0562c0"/>
<text x="198.4" y="425.6" text-anchor="end" class="lab" font-size="10.5">2</text>
<text transform="translate(193.45,425.6) scale(0.74,1)" text-anchor="end" class="lab" font-size="10.5">#</text>
<rect x="205.40" y="434.26" width="150.10" height="2.25" fill="#20c8b8"/>
<rect x="205.40" y="437.04" width="150.10" height="2.25" fill="#a068b8"/>
<rect x="205.40" y="439.82" width="150.10" height="2.25" fill="#f050aa"/>
<rect x="205.40" y="442.60" width="150.10" height="2.25" fill="#ff8030"/>
<rect x="205.40" y="445.38" width="150.70" height="2.25" fill="#0562c0"/>
<text x="198.4" y="444.5" text-anchor="end" class="lab" font-size="10.5">1</text>
<text transform="translate(193.45,444.5) scale(0.74,1)" text-anchor="end" class="lab" font-size="10.5">#</text>
<line x1="205.00" y1="450.6" x2="355.90" y2="450.6" stroke="#2a8ee0" stroke-width="1.1"/>
<line x1="205.40" y1="450.6" x2="205.40" y2="453.9" stroke="#3a94e0" stroke-width="0.8"/>
<text x="205.40" y="467.7" text-anchor="middle" class="lab" font-size="10.6">0.2</text>
<line x1="224.16" y1="450.6" x2="224.16" y2="453.9" stroke="#3a94e0" stroke-width="0.8"/>
<text x="224.16" y="467.7" text-anchor="middle" class="lab" font-size="10.6">0.3</text>
<line x1="242.93" y1="450.6" x2="242.93" y2="453.9" stroke="#3a94e0" stroke-width="0.8"/>
<text x="242.93" y="467.7" text-anchor="middle" class="lab" font-size="10.6">0.4</text>
<line x1="261.69" y1="450.6" x2="261.69" y2="453.9" stroke="#3a94e0" stroke-width="0.8"/>
<text x="261.69" y="467.7" text-anchor="middle" class="lab" font-size="10.6">0.5</text>
<line x1="280.45" y1="450.6" x2="280.45" y2="453.9" stroke="#3a94e0" stroke-width="0.8"/>
<text x="280.45" y="467.7" text-anchor="middle" class="lab" font-size="10.6">0.6</text>
<line x1="299.21" y1="450.6" x2="299.21" y2="453.9" stroke="#3a94e0" stroke-width="0.8"/>
<text x="299.21" y="467.7" text-anchor="middle" class="lab" font-size="10.6">0.7</text>
<line x1="317.98" y1="450.6" x2="317.98" y2="453.9" stroke="#3a94e0" stroke-width="0.8"/>
<text x="317.98" y="467.7" text-anchor="middle" class="lab" font-size="10.6">0.8</text>
<line x1="336.74" y1="450.6" x2="336.74" y2="453.9" stroke="#3a94e0" stroke-width="0.8"/>
<text x="336.74" y="467.7" text-anchor="middle" class="lab" font-size="10.6">0.9</text>
<line x1="355.50" y1="450.6" x2="355.50" y2="453.9" stroke="#3a94e0" stroke-width="0.8"/>
<text x="355.50" y="467.7" text-anchor="middle" class="lab" font-size="10.6">1</text>
<text x="254.2" y="246.7" class="ttl" font-size="10.8">Recall<tspan dx="0.3" dy="2.1" font-size="7.6">s</tspan></text>
<line x1="408.68" y1="259.1" x2="408.68" y2="450.6" stroke="#ebebeb" stroke-width="0.8" stroke-dasharray="2.2 1.6"/>
<line x1="427.25" y1="259.1" x2="427.25" y2="450.6" stroke="#ebebeb" stroke-width="0.8" stroke-dasharray="2.2 1.6"/>
<line x1="445.83" y1="259.1" x2="445.83" y2="450.6" stroke="#ebebeb" stroke-width="0.8" stroke-dasharray="2.2 1.6"/>
<line x1="464.40" y1="259.1" x2="464.40" y2="450.6" stroke="#ebebeb" stroke-width="0.8" stroke-dasharray="2.2 1.6"/>
<line x1="482.98" y1="259.1" x2="482.98" y2="450.6" stroke="#ebebeb" stroke-width="0.8" stroke-dasharray="2.2 1.6"/>
<line x1="501.55" y1="259.1" x2="501.55" y2="450.6" stroke="#ebebeb" stroke-width="0.8" stroke-dasharray="2.2 1.6"/>
<line x1="520.12" y1="259.1" x2="520.12" y2="450.6" stroke="#ebebeb" stroke-width="0.8" stroke-dasharray="2.2 1.6"/>
<line x1="538.70" y1="259.1" x2="538.70" y2="450.6" stroke="#d6d6d6" stroke-width="0.8" stroke-dasharray="2.2 1.6"/>
<rect x="390.10" y="263.98" width="130.10" height="2.25" fill="#20c8b8"/>
<rect x="390.10" y="266.75" width="25.94" height="2.25" fill="#a068b8"/>
<rect x="390.10" y="269.54" width="43.63" height="2.25" fill="#f050aa"/>
<rect x="390.10" y="272.31" width="115.82" height="2.25" fill="#ff8030"/>
<rect x="390.10" y="275.10" width="123.46" height="2.25" fill="#0562c0"/>
<text x="383.1" y="274.3" text-anchor="end" class="lab" font-size="10.5">10</text>
<text transform="translate(372.90,274.3) scale(0.74,1)" text-anchor="end" class="lab" font-size="10.5">#</text>
<rect x="390.10" y="282.90" width="129.70" height="2.25" fill="#20c8b8"/>
<rect x="390.10" y="285.68" width="116.43" height="2.25" fill="#a068b8"/>
<rect x="390.10" y="288.46" width="77.62" height="2.25" fill="#f050aa"/>
<rect x="390.10" y="291.24" width="100.34" height="2.25" fill="#ff8030"/>
<rect x="390.10" y="294.02" width="113.01" height="2.25" fill="#0562c0"/>
<text x="383.1" y="293.2" text-anchor="end" class="lab" font-size="10.5">9</text>
<text transform="translate(378.15,293.2) scale(0.74,1)" text-anchor="end" class="lab" font-size="10.5">#</text>
<rect x="390.10" y="301.82" width="148.00" height="2.25" fill="#20c8b8"/>
<rect x="390.10" y="304.60" width="89.28" height="2.25" fill="#a068b8"/>
<rect x="390.10" y="307.38" width="52.48" height="2.25" fill="#f050aa"/>
<rect x="390.10" y="310.16" width="137.94" height="2.25" fill="#ff8030"/>
<rect x="390.10" y="312.94" width="81.84" height="2.25" fill="#0562c0"/>
<text x="383.1" y="312.1" text-anchor="end" class="lab" font-size="10.5">8</text>
<text transform="translate(378.15,312.1) scale(0.74,1)" text-anchor="end" class="lab" font-size="10.5">#</text>
<rect x="390.10" y="320.74" width="128.49" height="2.25" fill="#20c8b8"/>
<rect x="390.10" y="323.51" width="114.82" height="2.25" fill="#a068b8"/>
<rect x="390.10" y="326.30" width="80.63" height="2.25" fill="#f050aa"/>
<rect x="390.10" y="329.07" width="90.89" height="2.25" fill="#ff8030"/>
<rect x="390.10" y="331.86" width="68.57" height="2.25" fill="#0562c0"/>
<text x="383.1" y="331.0" text-anchor="end" class="lab" font-size="10.5">7</text>
<text transform="translate(378.15,331.0) scale(0.74,1)" text-anchor="end" class="lab" font-size="10.5">#</text>
<rect x="390.10" y="339.66" width="133.52" height="2.25" fill="#20c8b8"/>
<rect x="390.10" y="342.44" width="115.02" height="2.25" fill="#a068b8"/>
<rect x="390.10" y="345.22" width="83.85" height="2.25" fill="#f050aa"/>
<rect x="390.10" y="348.00" width="128.09" height="2.25" fill="#ff8030"/>
<rect x="390.10" y="350.78" width="116.43" height="2.25" fill="#0562c0"/>
<text x="383.1" y="349.9" text-anchor="end" class="lab" font-size="10.5">6</text>
<text transform="translate(378.15,349.9) scale(0.74,1)" text-anchor="end" class="lab" font-size="10.5">#</text>
<rect x="390.10" y="358.58" width="148.60" height="2.25" fill="#20c8b8"/>
<rect x="390.10" y="361.36" width="137.94" height="2.25" fill="#a068b8"/>
<rect x="390.10" y="364.14" width="111.40" height="2.25" fill="#f050aa"/>
<rect x="390.10" y="366.92" width="148.60" height="2.25" fill="#ff8030"/>
<rect x="390.10" y="369.70" width="112.00" height="2.25" fill="#0562c0"/>
<text x="383.1" y="368.9" text-anchor="end" class="lab" font-size="10.5">5</text>
<text transform="translate(378.15,368.9) scale(0.74,1)" text-anchor="end" class="lab" font-size="10.5">#</text>
<rect x="390.10" y="377.50" width="137.94" height="2.25" fill="#20c8b8"/>
<rect x="390.10" y="380.27" width="148.60" height="2.25" fill="#a068b8"/>
<rect x="390.10" y="383.06" width="56.10" height="2.25" fill="#f050aa"/>
<rect x="390.10" y="385.83" width="119.44" height="2.25" fill="#ff8030"/>
<rect x="390.10" y="388.62" width="120.05" height="2.25" fill="#0562c0"/>
<text x="383.1" y="387.8" text-anchor="end" class="lab" font-size="10.5">4</text>
<text transform="translate(378.15,387.8) scale(0.74,1)" text-anchor="end" class="lab" font-size="10.5">#</text>
<rect x="390.10" y="396.42" width="148.60" height="2.25" fill="#20c8b8"/>
<rect x="390.10" y="399.19" width="95.92" height="2.25" fill="#a068b8"/>
<rect x="390.10" y="401.98" width="74.80" height="2.25" fill="#f050aa"/>
<rect x="390.10" y="404.75" width="111.80" height="2.25" fill="#ff8030"/>
<rect x="390.10" y="407.54" width="102.35" height="2.25" fill="#0562c0"/>
<text x="383.1" y="406.7" text-anchor="end" class="lab" font-size="10.5">3</text>
<text transform="translate(378.15,406.7) scale(0.74,1)" text-anchor="end" class="lab" font-size="10.5">#</text>
<rect x="390.10" y="415.34" width="148.60" height="2.25" fill="#20c8b8"/>
<rect x="390.10" y="418.12" width="148.60" height="2.25" fill="#a068b8"/>
<rect x="390.10" y="420.90" width="148.60" height="2.25" fill="#f050aa"/>
<rect x="390.10" y="423.68" width="148.60" height="2.25" fill="#ff8030"/>
<rect x="390.10" y="426.46" width="134.93" height="2.25" fill="#0562c0"/>
<text x="383.1" y="425.6" text-anchor="end" class="lab" font-size="10.5">2</text>
<text transform="translate(378.15,425.6) scale(0.74,1)" text-anchor="end" class="lab" font-size="10.5">#</text>
<rect x="390.10" y="434.26" width="148.60" height="2.25" fill="#20c8b8"/>
<rect x="390.10" y="437.04" width="121.86" height="2.25" fill="#a068b8"/>
<rect x="390.10" y="439.82" width="121.86" height="2.25" fill="#f050aa"/>
<rect x="390.10" y="442.60" width="148.60" height="2.25" fill="#ff8030"/>
<rect x="390.10" y="445.38" width="149.20" height="2.25" fill="#0562c0"/>
<text x="383.1" y="444.5" text-anchor="end" class="lab" font-size="10.5">1</text>
<text transform="translate(378.15,444.5) scale(0.74,1)" text-anchor="end" class="lab" font-size="10.5">#</text>
<line x1="389.70" y1="450.6" x2="539.10" y2="450.6" stroke="#2a8ee0" stroke-width="1.1"/>
<line x1="390.10" y1="450.6" x2="390.10" y2="453.9" stroke="#3a94e0" stroke-width="0.8"/>
<text x="390.10" y="467.7" text-anchor="middle" class="lab" font-size="10.7">0.2</text>
<line x1="408.68" y1="450.6" x2="408.68" y2="453.9" stroke="#3a94e0" stroke-width="0.8"/>
<text x="408.68" y="467.7" text-anchor="middle" class="lab" font-size="10.7">0.3</text>
<line x1="427.25" y1="450.6" x2="427.25" y2="453.9" stroke="#3a94e0" stroke-width="0.8"/>
<text x="427.25" y="467.7" text-anchor="middle" class="lab" font-size="10.7">0.4</text>
<line x1="445.83" y1="450.6" x2="445.83" y2="453.9" stroke="#3a94e0" stroke-width="0.8"/>
<text x="445.83" y="467.7" text-anchor="middle" class="lab" font-size="10.7">0.5</text>
<line x1="464.40" y1="450.6" x2="464.40" y2="453.9" stroke="#3a94e0" stroke-width="0.8"/>
<text x="464.40" y="467.7" text-anchor="middle" class="lab" font-size="10.7">0.6</text>
<line x1="482.98" y1="450.6" x2="482.98" y2="453.9" stroke="#3a94e0" stroke-width="0.8"/>
<text x="482.98" y="467.7" text-anchor="middle" class="lab" font-size="10.7">0.7</text>
<line x1="501.55" y1="450.6" x2="501.55" y2="453.9" stroke="#3a94e0" stroke-width="0.8"/>
<text x="501.55" y="467.7" text-anchor="middle" class="lab" font-size="10.7">0.8</text>
<line x1="520.12" y1="450.6" x2="520.12" y2="453.9" stroke="#3a94e0" stroke-width="0.8"/>
<text x="520.12" y="467.7" text-anchor="middle" class="lab" font-size="10.7">0.9</text>
<line x1="538.70" y1="450.6" x2="538.70" y2="453.9" stroke="#3a94e0" stroke-width="0.8"/>
<text x="538.70" y="467.7" text-anchor="middle" class="lab" font-size="10.7">1.0</text>
<text x="452.0" y="246.7" class="ttl" font-size="10.7">F1-Score<tspan dx="0.3" dy="2.1" font-size="7.6">s</tspan></text>
</svg>
</body></html>
